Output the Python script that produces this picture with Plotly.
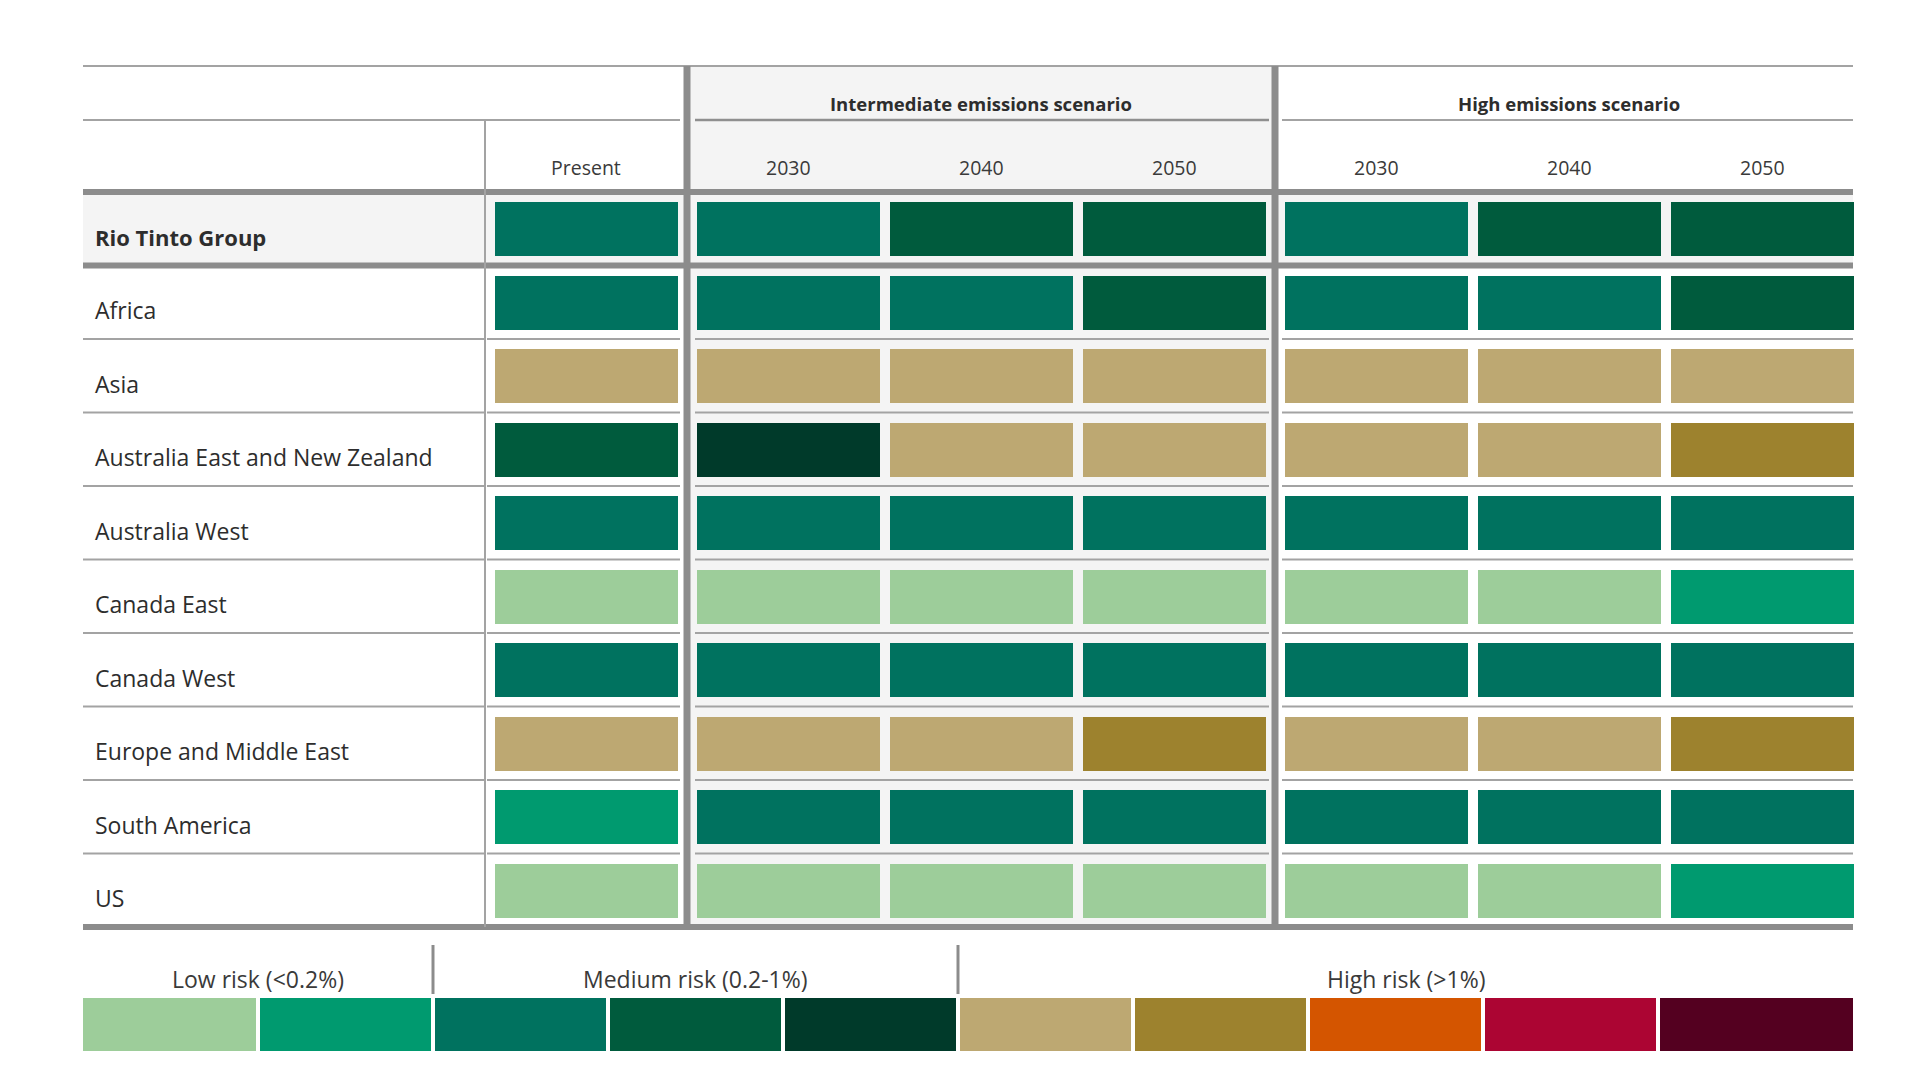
import plotly.graph_objects as go

# ---------------- data ----------------
REGIONS = ["Rio Tinto Group", "Africa", "Asia", "Australia East and New Zealand",
           "Australia West", "Canada East", "Canada West", "Europe and Middle East",
           "South America", "US"]
COLUMN_LABELS = ["Present", "2030", "2040", "2050", "2030", "2040", "2050"]
COLUMN_GROUP = [0, 1, 1, 1, 2, 2, 2]
SCENARIOS = ["Intermediate emissions scenario", "High emissions scenario"]

# risk level index (0..9) per region, columns as COLUMN_LABELS
RIO_TINTO_GROUP = [2, 2, 3, 3, 2, 3, 3]
AFRICA = [2, 2, 2, 3, 2, 2, 3]
ASIA = [5, 5, 5, 5, 5, 5, 5]
AUS_EAST_NZ = [3, 4, 5, 5, 5, 5, 6]
AUS_WEST = [2, 2, 2, 2, 2, 2, 2]
CANADA_EAST = [0, 0, 0, 0, 0, 0, 1]
CANADA_WEST = [2, 2, 2, 2, 2, 2, 2]
EUROPE_ME = [5, 5, 5, 6, 5, 5, 6]
SOUTH_AMERICA = [1, 2, 2, 2, 2, 2, 2]
US = [0, 0, 0, 0, 0, 0, 1]
LEVELS = [RIO_TINTO_GROUP, AFRICA, ASIA, AUS_EAST_NZ, AUS_WEST, CANADA_EAST,
          CANADA_WEST, EUROPE_ME, SOUTH_AMERICA, US]

RISK_COLORS = ["#9dcd9a", "#009a6f", "#00725f", "#005b3d", "#003a2a",
               "#bda872", "#9d822e", "#d45500", "#ac0533", "#540020"]
LEGEND_GROUPS = ["Low risk (<0.2%)", "Medium risk (0.2-1%)", "High risk (>1%)"]
LEGEND_GROUP_SIZES = [2, 3, 5]

# ---------------- layout constants ----------------
W, H = 1920, 1080
LEFT, RIGHT = 83, 1853
TOP_LINE, GROUP_LINE, HEAD_LINE = 66, 120, 192
ROW_PITCH = 73.5
CELL_H, CELL_PAD = 54, 10
CELL_W = 183
COL0, COL_PITCH, GROUP_EXTRA = 586, 193, 9
PRESENT_DIV = 485
THICK_X = [687, 1275]
LABEL_X = 93
LEG_SEP_Y0, LEG_SEP_Y1 = 945, 994
LEG_TOP, LEG_H, LEG_TEXT_Y = 998, 53, 979
LEG_PITCH = 175

THIN = "#a3a3a3"
THICK = "#8c8c8c"
BG = "#f4f4f4"
TXT = "#2d2d2d"
FONT = "Open Sans, Roboto, Arial, sans-serif"

n_rows = len(REGIONS)
bottom = HEAD_LINE + ROW_PITCH * n_rows
col_centers = [COL0 + i * COL_PITCH + g * GROUP_EXTRA for i, g in enumerate(COLUMN_GROUP)]

# ---------------- cells ----------------
xs, bases, hs, cols = [], [], [], []
for r, row in enumerate(LEVELS):
    top = HEAD_LINE + ROW_PITCH * r
    for c, lvl in enumerate(row):
        xs.append(col_centers[c])
        bases.append(top + CELL_PAD)
        hs.append(CELL_H)
        cols.append(RISK_COLORS[lvl])

fig = go.Figure()
fig.add_trace(go.Bar(x=xs, y=hs, base=bases, width=[CELL_W] * len(xs),
                     marker=dict(color=cols, line=dict(width=0)),
                     hoverinfo="skip", showlegend=False))

# legend swatches
n_sw = len(RISK_COLORS)
lx, lw = [], []
for i in range(n_sw):
    x0 = LEFT + LEG_PITCH * i + (0 if i == 0 else 2)
    x1 = RIGHT if i == n_sw - 1 else LEFT + LEG_PITCH * (i + 1) - 2
    lx.append((x0 + x1) / 2)
    lw.append(x1 - x0)
fig.add_trace(go.Bar(x=lx, y=[LEG_H] * n_sw, base=[LEG_TOP] * n_sw, width=lw,
                     marker=dict(color=RISK_COLORS, line=dict(width=0)),
                     hoverinfo="skip", showlegend=False))

shapes = []
# backgrounds
shapes.append(dict(type="rect", x0=THICK_X[0], x1=THICK_X[1], y0=TOP_LINE, y1=bottom,
                   fillcolor=BG, line=dict(width=0), layer="below"))
shapes.append(dict(type="rect", x0=LEFT, x1=RIGHT, y0=HEAD_LINE, y1=HEAD_LINE + ROW_PITCH,
                   fillcolor=BG, line=dict(width=0), layer="below"))


def hline(y, x0, x1, color, w):
    shapes.append(dict(type="line", x0=x0, x1=x1, y0=y, y1=y, line=dict(color=color, width=w)))


def vline(x, y0, y1, color, w):
    shapes.append(dict(type="line", x0=x, x1=x, y0=y0, y1=y1, line=dict(color=color, width=w)))


hline(TOP_LINE, LEFT, RIGHT, THIN, 2)
segs = [(LEFT, THICK_X[0] - 7), (THICK_X[0] + 8, THICK_X[1] - 6), (THICK_X[1] + 7, RIGHT)]
for a, b in segs:
    hline(GROUP_LINE, a, b, THIN if a != segs[1][0] else "#8f8f8f", 2.5 if a == segs[1][0] else 2)
row_segs = [(LEFT, PRESENT_DIV - 1), (PRESENT_DIV + 2, THICK_X[0] - 7)] + segs[1:]
for k in range(2, n_rows):
    y = HEAD_LINE + ROW_PITCH * k
    for a, b in row_segs:
        hline(y, a, b, THIN, 2)
hline(HEAD_LINE, LEFT, RIGHT, THICK, 6)
hline(HEAD_LINE + ROW_PITCH, LEFT, RIGHT, THICK, 6)
hline(bottom, LEFT, RIGHT, THICK, 6)
vline(PRESENT_DIV, GROUP_LINE, bottom, THIN, 2)
for x in THICK_X:
    vline(x, TOP_LINE, bottom + 3, THICK, 7)

# legend separators
cum = 0
for s in LEGEND_GROUP_SIZES[:-1]:
    cum += s
    vline(LEFT + LEG_PITCH * cum, LEG_SEP_Y0, LEG_SEP_Y1, THICK, 3)

annotations = []
# row labels
for r, name in enumerate(REGIONS):
    yc = HEAD_LINE + ROW_PITCH * (r + 0.5) + 8
    annotations.append(dict(x=LABEL_X, y=yc, text=("<b>%s</b>" % name) if r == 0 else name,
                            xanchor="left", yanchor="middle", showarrow=False,
                            font=dict(family=FONT, size=23 if r else 22, color=TXT)))
# column labels
for c, lab in enumerate(COLUMN_LABELS):
    annotations.append(dict(x=col_centers[c], y=167, text=lab, xanchor="center",
                            yanchor="middle", showarrow=False,
                            font=dict(family=FONT, size=19.5, color="#3a3a3a")))
# scenario headers
for g, sc in enumerate(SCENARIOS, start=1):
    idx = [i for i, gg in enumerate(COLUMN_GROUP) if gg == g]
    xc = (col_centers[idx[0]] + col_centers[idx[-1]]) / 2
    annotations.append(dict(x=xc, y=103, text="<b>%s</b>" % sc, xanchor="center",
                            yanchor="middle", showarrow=False,
                            font=dict(family=FONT, size=18.5, color=TXT)))
# legend labels
start = 0
for lab, s in zip(LEGEND_GROUPS, LEGEND_GROUP_SIZES):
    x0 = LEFT + LEG_PITCH * start
    x1 = RIGHT if start + s == n_sw else LEFT + LEG_PITCH * (start + s)
    annotations.append(dict(x=(x0 + x1) / 2, y=LEG_TEXT_Y, text=lab, xanchor="center",
                            yanchor="middle", showarrow=False,
                            font=dict(family=FONT, size=23, color="#3a3a3a")))
    start += s

fig.update_layout(
    width=W, height=H, margin=dict(l=0, r=0, t=0, b=0),
    paper_bgcolor="white", plot_bgcolor="white",
    barmode="overlay", bargap=0,
    xaxis=dict(range=[0, W], visible=False, fixedrange=True),
    yaxis=dict(range=[H, 0], visible=False, fixedrange=True),
    shapes=shapes, annotations=annotations,
)

fig.write_html("out.html", post_script="document.body.style.margin='0';",
               config={"displayModeBar": False})
